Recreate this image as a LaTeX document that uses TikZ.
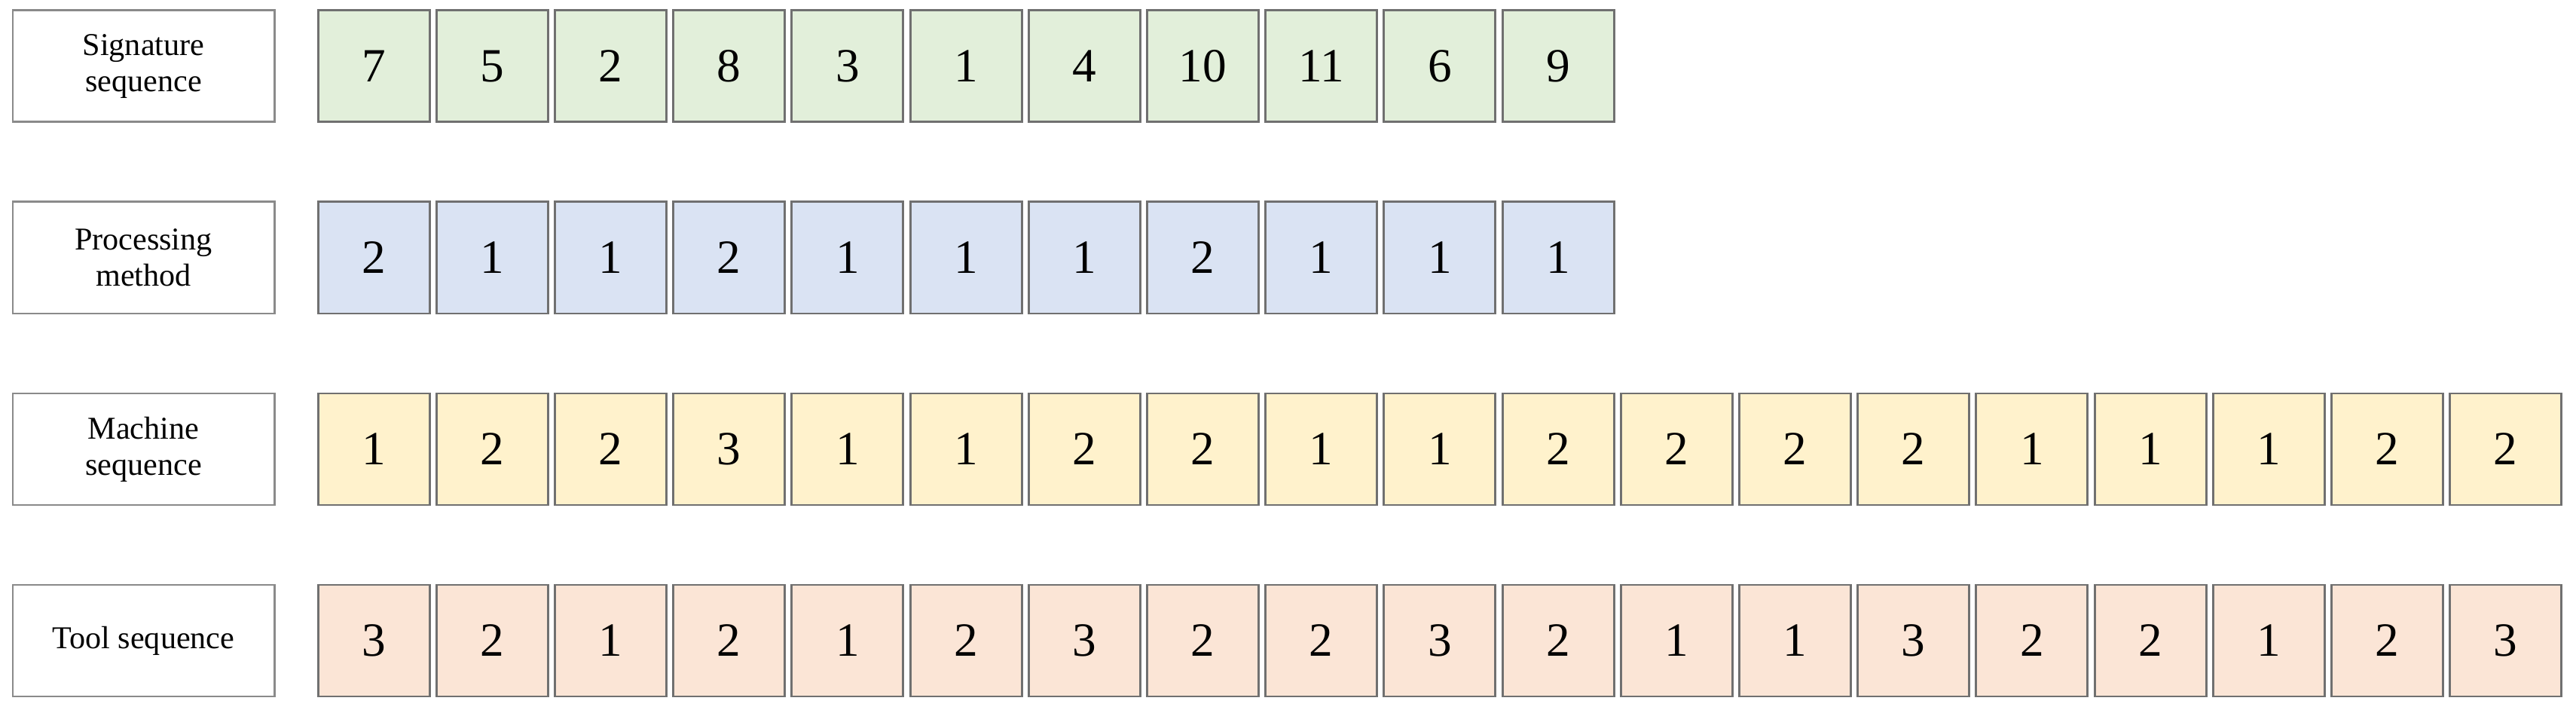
\documentclass[tikz,border=0pt]{standalone}
\usepackage{fontspec}
\setmainfont{Liberation Serif}
\definecolor{sigfill}{HTML}{E2EFDA}
\definecolor{procfill}{HTML}{DAE3F3}
\definecolor{machfill}{HTML}{FFF2CC}
\definecolor{toolfill}{HTML}{FBE5D6}
\definecolor{boxgray}{HTML}{8A8A8A}
\definecolor{cellgray}{HTML}{707070}
\begin{document}
\begin{tikzpicture}[
    labelbox/.style={draw=boxgray, line width=0.85pt, minimum width=3.47cm, minimum height=1.48cm,
      inner sep=0pt, align=center, font=\fontsize{12}{13.7}\selectfont},
    cellbox/.style={draw=cellgray, line width=0.85pt, minimum width=1.48cm, minimum height=1.48cm,
      inner sep=0pt, font=\fontsize{18}{20}\selectfont}]
  \useasboundingbox (0,0) rectangle (34.19,9.41);
  % ラベル
  \node[labelbox] (sig)  at (1.905,8.53) {Signature\\sequence};
  \node[labelbox] (proc) at (1.905,5.99) {Processing\\method};
  \node[labelbox] (mach) at (1.905,3.45) {Machine\\sequence};
  \node[labelbox] (tool) at (1.905,0.91) {Tool sequence};

  % 各列
  \foreach \v [count=\i from 0] in {7,5,2,8,3,1,4,10,11,6,9}
    \node[cellbox, fill=sigfill] (sig-\i) at (4.96+1.572*\i,8.53) {\v};
  \foreach \v [count=\i from 0] in {2,1,1,2,1,1,1,2,1,1,1}
    \node[cellbox, fill=procfill] (proc-\i) at (4.96+1.572*\i,5.99) {\v};
  \foreach \v [count=\i from 0] in {1,2,2,3,1,1,2,2,1,1,2,2,2,2,1,1,1,2,2}
    \node[cellbox, fill=machfill] (mach-\i) at (4.96+1.572*\i,3.45) {\v};
  \foreach \v [count=\i from 0] in {3,2,1,2,1,2,3,2,2,3,2,1,1,3,2,2,1,2,3}
    \node[cellbox, fill=toolfill] (tool-\i) at (4.96+1.572*\i,0.91) {\v};
\end{tikzpicture}
\end{document}
